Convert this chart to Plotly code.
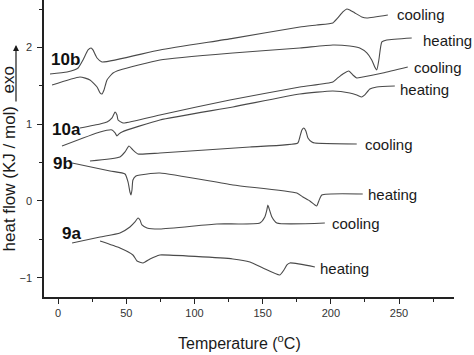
import plotly.graph_objects as go

# ---- data ----
x_10b_cool = [-5.9, 6.6, 14.7, 18.3, 22.0, 24.2, 25.6, 28.6, 32.2, 74.7, 128.2, 177.3, 189.7, 201.5, 205.1, 208.8, 211.7, 213.9, 217.6, 222.7, 226.4, 241.8]
y_10b_cool = [1.656, 1.682, 1.734, 1.838, 1.969, 1.995, 1.969, 1.864, 1.812, 1.969, 2.12, 2.269, 2.295, 2.321, 2.386, 2.464, 2.503, 2.490, 2.451, 2.399, 2.386, 2.425]

x_10b_heat = [-4.4, 16.1, 23.4, 28.6, 30.8, 32.2, 33.7, 35.9, 40.3, 45.4, 74.7, 128.2, 177.3, 201.5, 213.9, 221.2, 226.4, 230.0, 232.2, 233.7, 235.2, 237.4, 241.0, 259.3]
y_10b_heat = [1.512, 1.617, 1.578, 1.486, 1.408, 1.395, 1.447, 1.578, 1.669, 1.708, 1.838, 1.930, 1.995, 2.034, 2.021, 1.995, 1.930, 1.838, 1.747, 1.708, 1.838, 2.073, 2.099, 2.125]

x_10a_cool = [16.1, 30.8, 35.9, 39.6, 41.8, 43.2, 44.0, 47.6, 74.7, 126.0, 177.3, 201.5, 205.1, 208.8, 213.2, 216.1, 219.0, 223.4, 238.1, 256.4]
y_10a_cool = [0.952, 1.004, 1.030, 1.082, 1.160, 1.121, 1.056, 1.017, 1.121, 1.317, 1.486, 1.551, 1.604, 1.656, 1.695, 1.643, 1.604, 1.617, 1.669, 1.747]

x_10a_heat = [2.9, 30.8, 39.6, 41.8, 43.2, 44.7, 46.9, 74.7, 128.2, 177.3, 201.5, 213.9, 219.0, 222.7, 224.9, 228.6, 233.7, 246.9]
y_10a_heat = [0.717, 0.900, 0.926, 0.887, 0.847, 0.874, 0.900, 1.056, 1.226, 1.395, 1.434, 1.408, 1.382, 1.356, 1.382, 1.460, 1.486, 1.499]

x_9b_cool = [23.4, 45.4, 49.1, 52.0, 54.9, 58.6, 74.7, 140.7, 175.8, 177.3, 178.8, 180.2, 181.7, 183.2, 186.1, 188.3, 219.0]
y_9b_cool = [0.522, 0.574, 0.639, 0.717, 0.665, 0.613, 0.626, 0.704, 0.756, 0.834, 0.926, 0.952, 0.913, 0.821, 0.769, 0.756, 0.743]

x_9b_heat = [10.3, 38.1, 49.1, 51.3, 52.7, 53.5, 54.2, 54.9, 57.1, 60.1, 74.7, 128.2, 175.1, 179.5, 184.6, 188.3, 189.7, 191.2, 193.4, 223.4]
y_9b_heat = [0.495, 0.391, 0.352, 0.248, 0.117, 0.078, 0.143, 0.274, 0.326, 0.339, 0.365, 0.209, 0.104, 0.052, 0.0, -0.052, -0.065, 0.0, 0.078, 0.091]

x_9a_cool = [10.3, 30.8, 45.4, 52.7, 56.4, 58.6, 60.1, 61.5, 65.2, 74.7, 116.5, 148.0, 151.6, 153.1, 153.8, 154.6, 156.8, 160.4, 195.6]
y_9a_cool = [-0.548, -0.469, -0.417, -0.339, -0.274, -0.222, -0.248, -0.313, -0.352, -0.365, -0.300, -0.287, -0.209, -0.117, -0.052, -0.091, -0.209, -0.287, -0.287]

x_9a_heat = [30.8, 45.4, 54.9, 57.9, 62.3, 67.4, 72.5, 74.7, 128.2, 140.7, 150.2, 162.6, 165.6, 167.8, 170.0, 188.3]
y_9a_heat = [-0.522, -0.613, -0.704, -0.782, -0.808, -0.756, -0.717, -0.704, -0.756, -0.795, -0.874, -0.965, -0.900, -0.834, -0.808, -0.860]

curve_labels = ["cooling", "heating", "cooling", "heating", "cooling", "heating", "cooling", "heating"]
label_x = [246.9, 266.0, 259.3, 249.0, 223.4, 225.6, 199.3, 190.5]
label_y = [2.425, 2.086, 1.734, 1.447, 0.730, 0.078, -0.300, -0.874]

sample_names = ["10b", "10a", "9b", "9a"]
sample_x = [-6.6, -5.9, -5.1, 1.5]
sample_y = [1.838, 0.926, 0.495, -0.430]

x_ticks = [0, 50, 100, 150, 200, 250]
y_ticks = [-1, 0, 1, 2]

series = [
    (x_10b_cool, y_10b_cool), (x_10b_heat, y_10b_heat),
    (x_10a_cool, y_10a_cool), (x_10a_heat, y_10a_heat),
    (x_9b_cool, y_9b_cool), (x_9b_heat, y_9b_heat),
    (x_9a_cool, y_9a_cool), (x_9a_heat, y_9a_heat),
]

FONT = "Liberation Sans, Arial, sans-serif"
LINE_COLOR = "#4a4a4a"

fig = go.Figure()
for xs, ys in series:
    fig.add_trace(go.Scatter(x=xs, y=ys, mode="lines",
                             line=dict(color=LINE_COLOR, width=1.1, shape="spline", smoothing=0.5),
                             showlegend=False, hoverinfo="skip"))

annotations = []
for t, xv, yv in zip(curve_labels, label_x, label_y):
    annotations.append(dict(x=xv, y=yv, xref="x", yref="y", text=t, showarrow=False,
                            xanchor="left", yanchor="middle",
                            font=dict(family=FONT, size=15, color="#1a1a1a")))
for t, xv, yv in zip(sample_names, sample_x, sample_y):
    annotations.append(dict(x=xv, y=yv, xref="x", yref="y", text="<b>" + t + "</b>", showarrow=False,
                            xanchor="left", yanchor="middle",
                            font=dict(family=FONT, size=17, color="#111111")))

# axis titles
annotations.append(dict(x=0.478, y=-0.152, xref="paper", yref="paper",
                        text="Temperature (<sup>o</sup>C)", showarrow=False,
                        xanchor="center", yanchor="middle",
                        font=dict(family=FONT, size=16, color="#1a1a1a")))
annotations.append(dict(x=-0.083, y=0.399, xref="paper", yref="paper",
                        text="heat flow (KJ / mol)", showarrow=False, textangle=-90,
                        xanchor="center", yanchor="middle",
                        font=dict(family=FONT, size=17, color="#1a1a1a")))
annotations.append(dict(x=-0.0866, y=0.731, xref="paper", yref="paper",
                        text="exo", showarrow=False, textangle=-90,
                        xanchor="center", yanchor="middle",
                        font=dict(family=FONT, size=17, color="#1a1a1a")))
annotations.append(dict(x=-0.0683, y=0.8485, xref="paper", yref="paper",
                        text="", showarrow=True, ax=0, ay=58,
                        arrowhead=2, arrowsize=1, arrowwidth=1.2, arrowcolor="#1a1a1a"))

fig.update_layout(
    width=474, height=355,
    margin=dict(l=44, r=20, t=0, b=58),
    plot_bgcolor="white", paper_bgcolor="white",
    annotations=annotations,
    xaxis=dict(range=[-10.3, 290.3], tickvals=x_ticks, ticks="outside", ticklen=5,
               tickwidth=1.2, tickcolor="#222", showline=True, linecolor="#222", linewidth=1.5,
               showgrid=False, zeroline=False,
               tickfont=dict(family=FONT, size=11, color="#333"),
               minor=dict(ticks="outside", ticklen=3, dtick=25, tick0=0, tickcolor="#222", tickwidth=1.2)),
    yaxis=dict(range=[-1.252, 2.62], tickvals=y_ticks, ticks="outside", ticklen=5,
               tickwidth=1.2, tickcolor="#222", showline=True, linecolor="#222", linewidth=1.5,
               showgrid=False, zeroline=False, ticklabelstandoff=3,
               tickfont=dict(family=FONT, size=11, color="#333"),
               minor=dict(ticks="outside", ticklen=3, dtick=0.5, tick0=0, tickcolor="#222", tickwidth=1.2)),
)

fig.write_html("out.html", config={"displayModeBar": False},
               post_script="document.body.style.margin='0';document.body.style.overflow='hidden';")
